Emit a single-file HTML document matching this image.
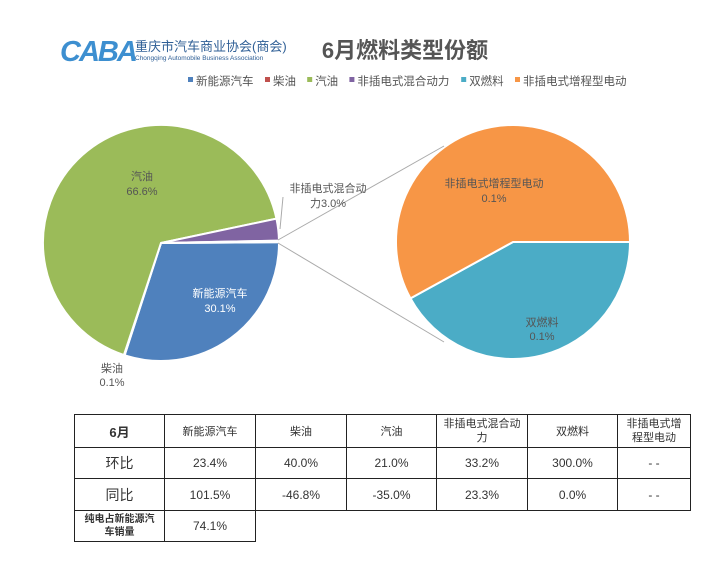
<!DOCTYPE html>
<html><head><meta charset="utf-8">
<style>
body{margin:0;background:#fff;width:727px;height:567px;overflow:hidden;font-family:"Liberation Sans","Noto Sans CJK SC",sans-serif;}
svg{display:block}
table{position:absolute;left:74px;top:414px;border-collapse:collapse;table-layout:fixed;font-family:"Liberation Sans","Noto Sans CJK SC",sans-serif;color:#333;}
td{border:1px solid #222;text-align:center;padding:0;overflow:hidden;}
</style></head><body>
<svg width="727" height="567" viewBox="0 0 727 567" id="chart">
  <g>
    <text x="60" y="61" font-size="29" font-weight="bold" fill="#3d8fd0" font-style="italic" font-family="Liberation Sans, sans-serif" letter-spacing="-2">CABA</text>
    <text x="135" y="51" font-size="13" fill="#2f5f96">重庆市汽车商业协会(商会)</text>
    <text x="135" y="60" font-size="6.5" fill="#2f5f96">Chongqing Automobile Business Association</text>
  </g>
  <text x="405" y="58" font-size="22" font-weight="bold" fill="#555" text-anchor="middle">6月燃料类型份额</text>
  <g id="legend"></g>
  <g id="left-pie"></g>
  <g id="right-pie"></g>
  <line x1="278" y1="240" x2="444" y2="146" stroke="#aaa" stroke-width="1"/>
  <line x1="278" y1="243" x2="444" y2="342" stroke="#aaa" stroke-width="1"/>
  <line x1="280" y1="229" x2="283" y2="197" stroke="#aaa" stroke-width="1"/>
  <g font-size="11" fill="#555" text-anchor="middle">
    <text x="142" y="180">汽油</text>
    <text x="142" y="195">66.6%</text>
    <text x="220" y="297" fill="#fff">新能源汽车</text>
    <text x="220" y="312" fill="#fff">30.1%</text>
    <text x="112" y="372">柴油</text>
    <text x="112" y="386">0.1%</text>
    <text x="328" y="192">非插电式混合动</text>
    <text x="328" y="207">力3.0%</text>
    <text x="494" y="187">非插电式增程型电动</text>
    <text x="494" y="202">0.1%</text>
    <text x="542" y="326">双燃料</text>
    <text x="542" y="340">0.1%</text>
  </g>
</svg>
<table style="width:616px">
  <colgroup><col style="width:90px"><col style="width:91px"><col style="width:91px"><col style="width:90px"><col style="width:91px"><col style="width:90px"><col style="width:73px"></colgroup>
  <tr style="height:33px;font-size:11px">
    <td style="font-size:13px;font-weight:bold">6月</td>
    <td>新能源汽车</td>
    <td>柴油</td>
    <td>汽油</td>
    <td style="line-height:14px">非插电式混合动<br>力</td>
    <td>双燃料</td>
    <td style="line-height:14px">非插电式增<br>程型电动</td>
  </tr>
  <tr style="height:31px;font-size:12px">
    <td style="font-size:14px">环比</td><td>23.4%</td><td>40.0%</td><td>21.0%</td><td>33.2%</td><td>300.0%</td><td>- -</td>
  </tr>
  <tr style="height:32px;font-size:12px">
    <td style="font-size:14px">同比</td><td>101.5%</td><td>-46.8%</td><td>-35.0%</td><td>23.3%</td><td>0.0%</td><td>- -</td>
  </tr>
  <tr style="height:31px;font-size:12px">
    <td style="font-size:10px;font-weight:bold;line-height:13px">纯电占新能源汽<br>车销量</td><td>74.1%</td>
    <td style="border:none"></td><td style="border:none"></td><td style="border:none"></td><td style="border:none"></td><td style="border:none"></td>
  </tr>
</table>
<script>
const NS='http://www.w3.org/2000/svg';
const leftCategories=['新能源汽车','柴油','汽油','非插电式混合动力','其他'];
const leftValues=[30.1,0.1,66.6,3.0,0.2];
const leftColors=['#4f81bd','#8b4a4a','#9bbb59','#8064a2','#bbbbbb'];
const rightCategories=['双燃料','非插电式增程型电动'];
const rightValues=[42,58];
const rightColors=['#4bacc6','#f79646'];
const legendLabels=['新能源汽车','柴油','汽油','非插电式混合动力','双燃料','非插电式增程型电动'];
const legendColors=['#4f81bd','#c0504d','#9bbb59','#8064a2','#4bacc6','#f79646'];

function pie(gid,cx,cy,r,vals,cols,cats,start){
  const g=document.getElementById(gid);
  const tot=vals.reduce((a,b)=>a+b,0);
  let a=start;
  vals.forEach((v,i)=>{
    const a2=a+v/tot*2*Math.PI;
    const x1=cx+r*Math.cos(a),y1=cy+r*Math.sin(a),x2=cx+r*Math.cos(a2),y2=cy+r*Math.sin(a2);
    const large=(a2-a)>Math.PI?1:0;
    const p=document.createElementNS(NS,'path');
    p.setAttribute('d',`M${cx},${cy}L${x1},${y1}A${r},${r} 0 ${large} 1 ${x2},${y2}Z`);
    p.setAttribute('fill',cols[i]);p.setAttribute('stroke','#fff');p.setAttribute('stroke-width','2');
    
    
    g.appendChild(p);
    a=a2;
  });
}
pie('left-pie',161,243,118,leftValues,leftColors,leftCategories,-0.4*Math.PI/180);
pie('right-pie',513,242,117,rightValues,rightColors,rightCategories,0);

const lg=document.getElementById('legend');
let lx=188;
legendLabels.forEach((t,i)=>{
  const r=document.createElementNS(NS,'rect');
  r.setAttribute('x',lx);r.setAttribute('y',77);r.setAttribute('width',5);r.setAttribute('height',5);r.setAttribute('fill',legendColors[i]);
  
  
  lg.appendChild(r);
  const tx=document.createElementNS(NS,'text');
  tx.setAttribute('x',lx+8);tx.setAttribute('y',85);tx.setAttribute('font-size','11.5');tx.setAttribute('fill','#555');
  tx.textContent=t;
  
  
  lg.appendChild(tx);
  lx+=8+t.length*11.6+11;
});
</script>
</body></html>
